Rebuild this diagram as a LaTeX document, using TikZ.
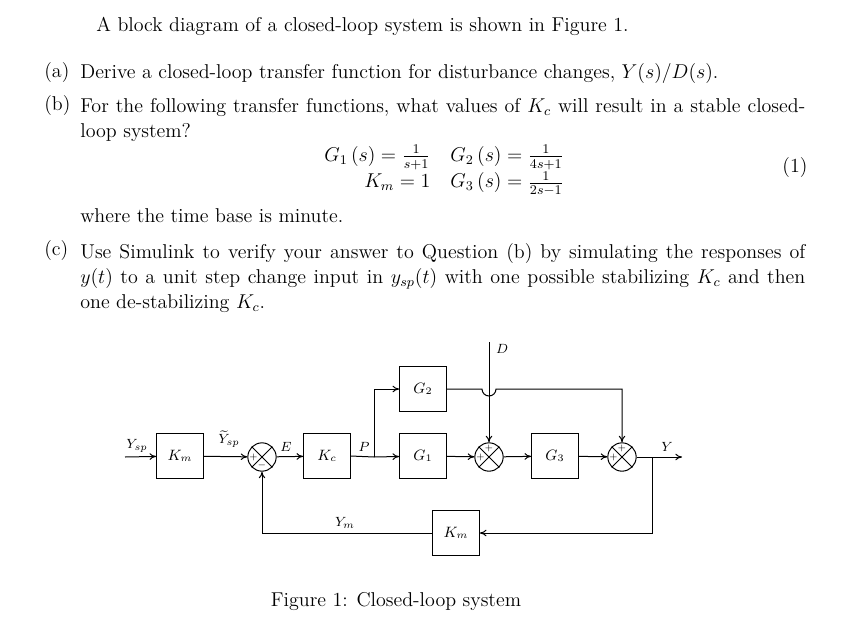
\documentclass[tikz,border=0pt]{standalone}
\usepackage{amsmath}
\usetikzlibrary{arrows.meta}
\begin{document}
\begin{tikzpicture}[x=0.6pt,y=-0.6pt,
 blk/.style={draw,semithick,minimum width=28pt,minimum height=27pt,inner sep=0pt,font=\small},
 sumj/.style={draw,semithick,circle,minimum size=17pt,inner sep=0pt},
 sig/.style={font=\tiny,inner sep=0pt},
 lab/.style={font=\footnotesize,inner sep=1pt},
 arr/.style={semithick,-{To[length=4pt,width=4pt]}},
 txt/.style={anchor=north west,inner sep=0pt,text width=435pt,align=justify,font=\fontsize{12}{15}\selectfont}]
\useasboundingbox (0,0) rectangle (863,631);
% text
\node[anchor=west,inner sep=0pt,font=\fontsize{12}{15}\selectfont] (t0) at (96,26) {A block diagram of a closed-loop system is shown in Figure 1.};
\node[anchor=west,inner sep=0pt,font=\fontsize{12}{15}\selectfont] (la) at (44,73) {(a)};
\node[anchor=west,inner sep=0pt,font=\fontsize{12}{15}\selectfont] (ta) at (80,73) {Derive a closed-loop transfer function for disturbance changes, $Y(s)/D(s)$.};
\node[anchor=west,inner sep=0pt,font=\fontsize{12}{15}\selectfont] (lb) at (44,106) {(b)};
\node[txt] (tb) at (80,98) {For the following transfer functions, what values of $K_c$ will result in a stable closed-\linebreak loop system?};
\node[font=\fontsize{12}{15}\selectfont,inner sep=0pt] (eq) at (444,170) {$\begin{array}{@{}r@{\quad}r@{}} G_1\left(s\right)=\frac{1}{s+1} & G_2\left(s\right)=\frac{1}{4s+1}\\[1pt] K_m=1 & G_3\left(s\right)=\frac{1}{2s-1}\end{array}$};
\node[font=\fontsize{12}{15}\selectfont,inner sep=0pt] (en) at (795,168) {(1)};
\node[anchor=west,inner sep=0pt,font=\fontsize{12}{15}\selectfont] (tw) at (80,216) {where the time base is minute.};
\node[anchor=west,inner sep=0pt,font=\fontsize{12}{15}\selectfont] (lc) at (44,251) {(c)};
\node[txt] (tc) at (80,243) {Use Simulink to verify your answer to Question (b) by simulating the responses of $y(t)$ to a unit step change input in $y_{sp}(t)$ with one possible stabilizing $K_c$ and then one de-stabilizing $K_c$.};
\node[inner sep=0pt,font=\fontsize{12}{15}\selectfont] (cap) at (396,601) {Figure 1: Closed-loop system};
% diagram
\coordinate (in) at (125,457);
\node[blk] (km) at (180,456) {$K_m$};
\node[sumj] (s1) at (262,457) {};
\node[blk] (kc) at (327,456) {$K_c$};
\coordinate (br) at (374,457);
\node[blk] (g1) at (423,456) {$G_1$};
\node[blk] (g2) at (423,389) {$G_2$};
\node[sumj] (s2) at (489,457) {};
\node[blk] (g3) at (555,456) {$G_3$};
\node[sumj] (s3) at (622,457) {};
\coordinate (out) at (682,457);
\coordinate (fb) at (652,457);
\node[blk] (km2) at (456,533) {$K_m$};
\coordinate (dtop) at (489,342);
\foreach \s in {s1,s2,s3}{\draw[semithick] (\s.north west)--(\s.south east) (\s.north east)--(\s.south west);}
\node[sig] at ([xshift=-5.2pt]s1.center) {$+$};
\node[sig] at ([yshift=-5.2pt]s1.center) {$-$};
\foreach \s in {s2,s3}{\node[sig] at ([xshift=-5.2pt]\s.center) {$+$};\node[sig] at ([yshift=5.2pt]\s.center) {$+$};}
\draw[arr] (in) -- (km);
\draw[arr] (km) -- (s1);
\draw[arr] (s1) -- (kc);
\draw[semithick] (kc.east) -- (br);
\draw[arr] (br) -- (g1);
\draw[arr] (br) |- (g2);
\draw[arr] (g1) -- (s2);
\draw[arr] (s2) -- (g3);
\draw[arr] (g3) -- (s3);
\draw[arr] (s3) -- (out);
\draw[arr] (dtop) -- (s2);
\draw[arr] (g2.east) -- (482,389) arc[start angle=180,end angle=0,radius=7] -- (622,389) -- (s3);
\draw[arr] (fb) |- (km2);
\draw[arr] (km2) -| (s1);
\node[lab,anchor=south] at (137,454) {$Y_{sp}$};
\node[lab,anchor=south] at (229,449) {$\widetilde{Y}_{sp}$};
\node[lab,anchor=south] at (286,453) {$E$};
\node[lab,anchor=south] at (364,453) {$P$};
\node[lab,anchor=south] at (667,453) {$Y$};
\node[lab,anchor=west] at (494,349) {$D$};
\node[lab,anchor=south] at (345,530) {$Y_m$};
\end{tikzpicture}
\end{document}
